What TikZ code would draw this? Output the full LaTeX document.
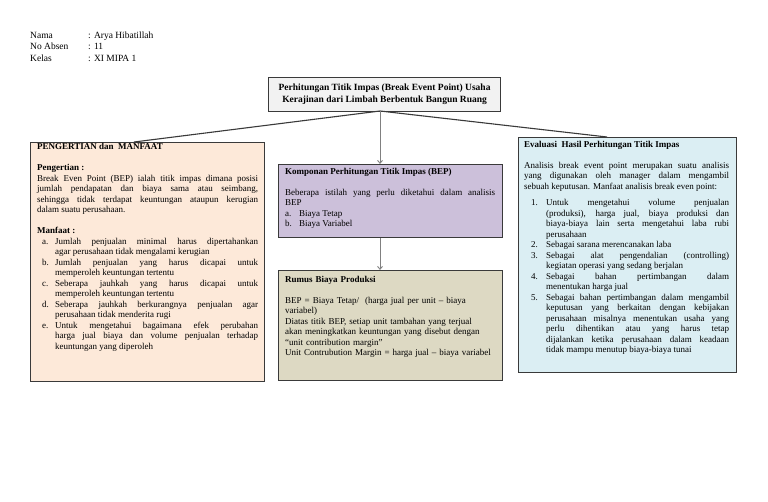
\documentclass[tikz,border=0pt]{standalone}
\usepackage{fontspec}
\setmainfont{Liberation Serif}
\usetikzlibrary{arrows.meta}
\definecolor{bordc}{HTML}{3A3A3A}
\definecolor{topfill}{HTML}{F2F2F2}
\definecolor{peach}{HTML}{FDE9D9}
\definecolor{lilac}{HTML}{CCC0DA}
\definecolor{tan}{HTML}{DDD9C3}
\definecolor{skyb}{HTML}{DBEEF3}
\newcommand\mitem[4]{\par\hangindent=#1\relax\hangafter=1\noindent\hbox to #1{\hskip#2\relax #3\hfill}#4}
\tikzset{
  box/.style={draw=bordc, line width=1.2pt, rectangle, inner sep=0pt, anchor=north west},
  txt/.style={anchor=north west, inner sep=0pt, align=justify, font=\fontsize{9}{10.5}\selectfont},
  link/.style={draw=bordc, line width=1.1pt},
  arr/.style={draw=gray, line width=0.9pt, -{Straight Barb[length=3pt,width=5pt]}},
}
\begin{document}
\begin{tikzpicture}[x=1pt,y=-1pt]
\useasboundingbox[fill=white] (0,0) rectangle (768,501);
% header
\node[anchor=north west, inner sep=0pt, font=\fontsize{9.5}{11.5}\selectfont] (hdr) at (30,30)
  {\begin{tabular}{@{}p{58pt}@{}l@{}}Nama & : Arya Hibatillah\\ No Absen & : 11\\ Kelas & : XI MIPA 1\end{tabular}};
% boxes
\node[box, fill=topfill, minimum width=232, minimum height=34] (top) at (268,77) {};
\node[box, fill=peach, minimum width=234, minimum height=239] (left) at (30,142) {};
\node[box, fill=lilac, minimum width=224, minimum height=73] (mida) at (278,164) {};
\node[box, fill=tan, minimum width=224, minimum height=110] (midb) at (278,270) {};
\node[box, fill=skyb, minimum width=218, minimum height=235] (right) at (518,137) {};
% top text
\node[anchor=center, inner sep=0pt, align=center, font=\fontsize{9.5}{12}\selectfont\bfseries] (toptxt) at (top.center)
  {Perhitungan Titik Impas (Break Event Point) Usaha\\Kerajinan dari Limbah Berbentuk Bangun Ruang};
% left text
\node[txt, text width=221] (lefttxt) at (37,143.5) {%
  \textbf{PENGERTIAN dan \ MANFAAT}\par\vspace{10.5pt}
  \noindent\textbf{Pengertian :}\par
  \noindent Break Even Point (BEP) ialah titik impas dimana posisi\linebreak
  jumlah pendapatan dan biaya sama atau seimbang,\linebreak
  sehingga tidak terdapat keuntungan ataupun kerugian\linebreak
  dalam suatu perusahaan.\par\vspace{10.5pt}
  \noindent\textbf{Manfaat :}
  \mitem{18pt}{5pt}{a.}{Jumlah penjualan minimal harus dipertahankan\linebreak agar perusahaan tidak mengalami kerugian}
  \mitem{18pt}{5pt}{b.}{Jumlah penjualan yang harus dicapai untuk\linebreak memperoleh keuntungan tertentu}
  \mitem{18pt}{5pt}{c.}{Seberapa jauhkah yang harus dicapai untuk\linebreak memperoleh keuntungan tertentu}
  \mitem{18pt}{5pt}{d.}{Seberapa jauhkah berkurangnya penjualan agar\linebreak perusahaan tidak menderita rugi}
  \mitem{18pt}{5pt}{e.}{Untuk mengetahui bagaimana efek perubahan\linebreak harga jual biaya dan volume penjualan terhadap\linebreak keuntungan yang diperoleh}\par};
% middle box 1
\node[txt, text width=210] (midatxt) at (285,168) {%
  \textbf{Komponan Perhitungan Titik Impas (BEP)}\par\vspace{10.5pt}
  \noindent Beberapa istilah yang perlu diketahui dalam analisis\linebreak BEP
  \mitem{14pt}{0pt}{a.}{Biaya Tetap}
  \mitem{14pt}{0pt}{b.}{Biaya Variabel}\par};
% middle box 2
\node[txt, text width=214, align=left] (midbtxt) at (285,276) {%
  \textbf{Rumus Biaya Produksi}\\[10.5pt]
  BEP = Biaya Tetap/ \ (harga jual per unit -- biaya\\
  variabel)\\
  Diatas titik BEP, setiap unit tambahan yang terjual\\
  akan meningkatkan keuntungan yang disebut dengan\\
  ``unit contribution margin''\\
  Unit Contrubution Margin = harga jual -- biaya variabel};
% right box
\node[txt, text width=205] (righttxt) at (524,141) {%
  \textbf{Evaluasi \ Hasil Perhitungan Titik Impas}\par\vspace{10.5pt}
  \noindent Analisis break event point merupakan suatu analisis\linebreak
  yang digunakan oleh manager dalam mengambil\linebreak
  sebuah keputusan. Manfaat analisis break even point:\par\vspace{6pt}
  \mitem{22pt}{7pt}{1.}{Untuk mengetahui volume penjualan\linebreak (produksi), harga jual, biaya produksi dan\linebreak biaya-biaya lain serta mengetahui laba rubi\linebreak perusahaan}
  \mitem{22pt}{7pt}{2.}{Sebagai sarana merencanakan laba}
  \mitem{22pt}{7pt}{3.}{Sebagai alat pengendalian (controlling)\linebreak kegiatan operasi yang sedang berjalan}
  \mitem{22pt}{7pt}{4.}{Sebagai bahan pertimbangan dalam\linebreak menentukan harga jual}
  \mitem{22pt}{7pt}{5.}{Sebagai bahan pertimbangan dalam mengambil\linebreak keputusan yang berkaitan dengan kebijakan\linebreak perusahaan misalnya menentukan usaha yang\linebreak perlu dihentikan atau yang harus tetap\linebreak dijalankan ketika perusahaan dalam keadaan\linebreak tidak mampu menutup biaya-biaya tunai}\par};
% connectors
\coordinate (hub) at (380,111);
\coordinate (lend) at (134,142);
\coordinate (rend) at (607,137);
\draw[link] (hub) -- (lend);
\draw[link] (hub) -- (rend);
\draw[arr] (hub) -- (hub |- mida.north);
\draw[arr] (hub |- mida.south) -- (hub |- midb.north);
\end{tikzpicture}
\end{document}
